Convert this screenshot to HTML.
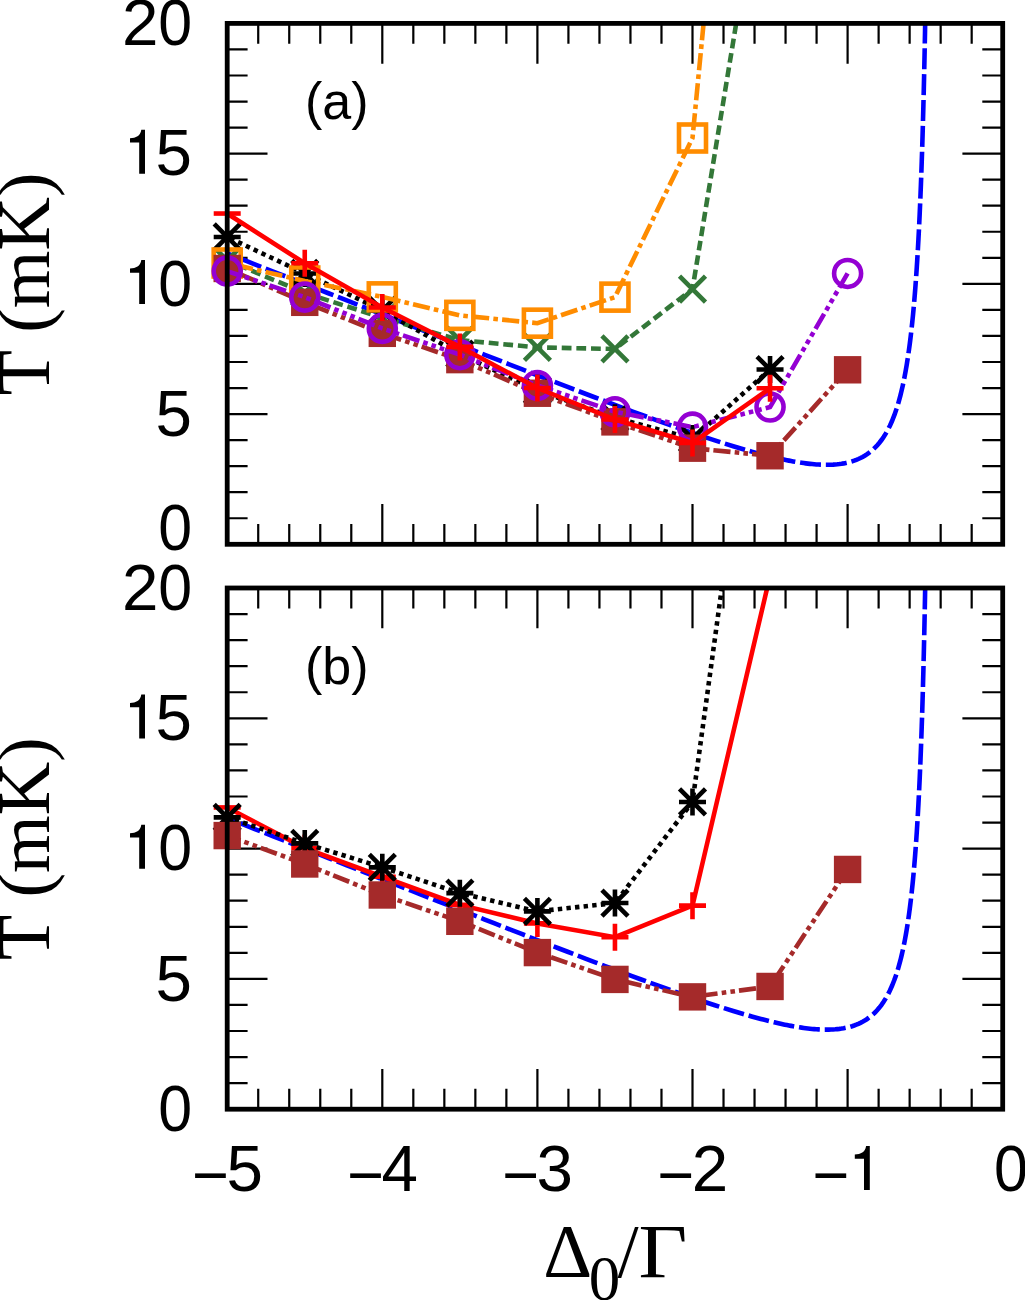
<!DOCTYPE html>
<html><head><meta charset="utf-8"><style>
html,body{margin:0;padding:0;background:#fff;}
svg{display:block;}
.tk{font-family:"Liberation Sans",sans-serif;font-size:65.5px;fill:#000;}
.lb{font-family:"Liberation Serif",serif;fill:#000;}
.pl{font-family:"Liberation Sans",sans-serif;font-size:52px;fill:#000;}
</style></head><body>
<svg width="1025" height="1300" viewBox="0 0 1025 1300">
<defs>
<clipPath id="ca"><rect x="227.2" y="23.4" width="775.5" height="520.9"/></clipPath>
<clipPath id="cb"><rect x="227.2" y="588" width="775.5" height="521.2"/></clipPath>
</defs>
<rect width="1025" height="1300" fill="#fff"/>
<path d="M258.22 544.3v-20.4M258.22 23.4v20.4M289.24 544.3v-20.4M289.24 23.4v20.4M320.26 544.3v-20.4M320.26 23.4v20.4M351.28 544.3v-20.4M351.28 23.4v20.4M382.3 544.3v-40.3M382.3 23.4v40.3M413.32 544.3v-20.4M413.32 23.4v20.4M444.34 544.3v-20.4M444.34 23.4v20.4M475.36 544.3v-20.4M475.36 23.4v20.4M506.38 544.3v-20.4M506.38 23.4v20.4M537.4 544.3v-40.3M537.4 23.4v40.3M568.42 544.3v-20.4M568.42 23.4v20.4M599.44 544.3v-20.4M599.44 23.4v20.4M630.46 544.3v-20.4M630.46 23.4v20.4M661.48 544.3v-20.4M661.48 23.4v20.4M692.5 544.3v-40.3M692.5 23.4v40.3M723.52 544.3v-20.4M723.52 23.4v20.4M754.54 544.3v-20.4M754.54 23.4v20.4M785.56 544.3v-20.4M785.56 23.4v20.4M816.58 544.3v-20.4M816.58 23.4v20.4M847.6 544.3v-40.3M847.6 23.4v40.3M878.62 544.3v-20.4M878.62 23.4v20.4M909.64 544.3v-20.4M909.64 23.4v20.4M940.66 544.3v-20.4M940.66 23.4v20.4M971.68 544.3v-20.4M971.68 23.4v20.4M227.2 518.25h20.4M1002.7 518.25h-20.4M227.2 492.21h20.4M1002.7 492.21h-20.4M227.2 466.16h20.4M1002.7 466.16h-20.4M227.2 440.12h20.4M1002.7 440.12h-20.4M227.2 414.07h40.3M1002.7 414.07h-40.3M227.2 388.03h20.4M1002.7 388.03h-20.4M227.2 361.98h20.4M1002.7 361.98h-20.4M227.2 335.94h20.4M1002.7 335.94h-20.4M227.2 309.89h20.4M1002.7 309.89h-20.4M227.2 283.85h40.3M1002.7 283.85h-40.3M227.2 257.8h20.4M1002.7 257.8h-20.4M227.2 231.76h20.4M1002.7 231.76h-20.4M227.2 205.71h20.4M1002.7 205.71h-20.4M227.2 179.67h20.4M1002.7 179.67h-20.4M227.2 153.62h40.3M1002.7 153.62h-40.3M227.2 127.58h20.4M1002.7 127.58h-20.4M227.2 101.53h20.4M1002.7 101.53h-20.4M227.2 75.49h20.4M1002.7 75.49h-20.4M227.2 49.44h20.4M1002.7 49.44h-20.4" stroke="#000" stroke-width="2.2" fill="none"/>
<polyline points="227.2,253.5 236.4,257.1 245.6,260.71 254.8,264.31 264,267.92 273.2,271.53 282.41,275.15 291.61,278.76 300.81,282.38 310.01,286 319.21,289.62 328.41,293.24 337.61,296.86 346.81,300.48 356.01,304.11 365.21,307.73 374.41,311.36 383.61,314.98 392.82,318.61 402.02,322.23 411.22,325.86 420.42,329.48 429.62,333.1 438.82,336.73 448.02,340.34 457.22,343.96 466.42,347.57 475.62,351.18 484.82,354.79 494.02,358.39 503.23,361.99 512.43,365.58 521.63,369.16 530.83,372.74 540.03,376.31 549.23,379.87 558.43,383.42 567.63,386.96 576.83,390.49 586.03,394 595.23,397.5 604.43,400.98 613.64,404.44 622.84,407.88 632.04,411.29 641.24,414.68 650.44,418.04 659.64,421.37 668.84,424.66 678.04,427.91 687.24,431.12 696.44,434.27 705.64,437.36 714.84,440.38 724.05,443.33 733.25,446.19 742.45,448.95 751.65,451.59 760.85,454.1 770.05,456.44 770.05,456.44 772.15,456.95 774.26,457.45 776.36,457.94 778.46,458.42 780.57,458.88 782.67,459.34 784.77,459.78 786.87,460.21 788.98,460.62 791.08,461.02 793.18,461.41 795.29,461.78 797.39,462.13 799.49,462.47 801.6,462.79 803.7,463.08 805.8,463.36 807.9,463.62 810.01,463.86 812.11,464.07 814.21,464.26 816.32,464.42 818.42,464.56 820.52,464.66 822.63,464.74 824.73,464.79 826.83,464.8 828.94,464.77 831.04,464.71 833.14,464.61 835.24,464.46 837.35,464.27 839.45,464.03 841.55,463.74 843.66,463.39 845.76,462.98 847.86,462.51 849.97,461.97 852.07,461.35 854.17,460.66 856.28,459.87 858.38,459 860.48,458.02 862.58,456.93 864.69,455.73 866.79,454.39 868.89,452.9 871,451.26 873.1,449.44 875.2,447.43 877.31,445.21 879.41,442.75 881.51,440.02 883.61,436.99 885.72,433.62 887.82,429.86 889.92,425.67 892.03,420.98 894.13,415.7 894.13,415.7 894.54,414.59 894.95,413.45 895.37,412.29 895.78,411.1 896.19,409.87 896.6,408.62 897.02,407.34 897.43,406.02 897.84,404.67 898.25,403.29 898.67,401.87 899.08,400.41 899.49,398.92 899.9,397.38 900.31,395.81 900.73,394.19 901.14,392.53 901.55,390.82 901.96,389.07 902.38,387.26 902.79,385.41 903.2,383.5 903.61,381.54 904.02,379.52 904.44,377.43 904.85,375.29 905.26,373.08 905.67,370.81 906.09,368.46 906.5,366.04 906.91,363.55 907.32,360.97 907.74,358.31 908.15,355.56 908.56,352.72 908.97,349.79 909.38,346.75 909.8,343.61 910.21,340.35 910.62,336.98 911.03,333.48 911.45,329.86 911.86,326.1 912.27,322.19 912.68,318.13 913.1,313.92 913.51,309.53 913.92,304.96 914.33,300.2 914.74,295.24 915.16,290.06 915.57,284.65 915.98,279 916.39,273.09 916.81,266.89 917.22,260.4 917.63,253.59 918.04,246.44 918.46,238.92 918.87,231 919.28,222.65 919.69,213.83 920.1,204.51 920.52,194.65 920.93,184.19 921.34,173.08 921.75,161.25 922.17,148.65 922.58,135.18 922.99,120.77 923.4,105.3 923.81,88.66 924.23,70.72 924.64,51.3 925.05,30.24 925.46,7.31 925.88,-17.75 926.29,-45.25 926.7,-75.55" fill="none" stroke="#0000ff" stroke-width="4.6" stroke-dasharray="21 4.87" stroke-dashoffset="10.43" clip-path="url(#ca)"/>
<polyline points="227.2,260.41 304.75,292.97 382.3,317.71 459.85,340.11 537.4,347.4 614.95,348.96 692.5,289.06 770.05,-182.36" fill="none" stroke="#337738" stroke-width="4.6" stroke-dasharray="9.8 4.84" stroke-dashoffset="2.92" clip-path="url(#ca)"/>
<path d="M214.2 247.41L240.2 273.41M214.2 273.41L240.2 247.41" stroke="#337738" stroke-width="4.6" fill="none"/>
<path d="M291.75 279.97L317.75 305.97M291.75 305.97L317.75 279.97" stroke="#337738" stroke-width="4.6" fill="none"/>
<path d="M369.3 304.71L395.3 330.71M369.3 330.71L395.3 304.71" stroke="#337738" stroke-width="4.6" fill="none"/>
<path d="M446.85 327.11L472.85 353.11M446.85 353.11L472.85 327.11" stroke="#337738" stroke-width="4.6" fill="none"/>
<path d="M524.4 334.4L550.4 360.4M524.4 360.4L550.4 334.4" stroke="#337738" stroke-width="4.6" fill="none"/>
<path d="M601.95 335.96L627.95 361.96M601.95 361.96L627.95 335.96" stroke="#337738" stroke-width="4.6" fill="none"/>
<path d="M679.5 276.06L705.5 302.06M679.5 302.06L705.5 276.06" stroke="#337738" stroke-width="4.6" fill="none"/>
<polyline points="227.2,236.97 304.75,273.43 382.3,310.42 459.85,354.17 537.4,390.37 614.95,417.72 692.5,438.56 770.05,369.54" fill="none" stroke="#000000" stroke-width="4.6" stroke-dasharray="4.4 4.24" stroke-dashoffset="5.29" clip-path="url(#ca)"/>
<path d="M213.7 236.97H240.7M214.2 223.97L240.2 249.97M214.2 249.97L240.2 223.97" stroke="#000000" stroke-width="4.6" fill="none"/>
<path d="M291.25 273.43H318.25M304.75 259.93V286.93M291.75 260.43L317.75 286.43M291.75 286.43L317.75 260.43" stroke="#000000" stroke-width="4.6" fill="none"/>
<path d="M368.8 310.42H395.8M382.3 296.92V323.92M369.3 297.42L395.3 323.42M369.3 323.42L395.3 297.42" stroke="#000000" stroke-width="4.6" fill="none"/>
<path d="M446.35 354.17H473.35M459.85 340.67V367.67M446.85 341.17L472.85 367.17M446.85 367.17L472.85 341.17" stroke="#000000" stroke-width="4.6" fill="none"/>
<path d="M523.9 390.37H550.9M537.4 376.87V403.87M524.4 377.37L550.4 403.37M524.4 403.37L550.4 377.37" stroke="#000000" stroke-width="4.6" fill="none"/>
<path d="M601.45 417.72H628.45M614.95 404.22V431.22M601.95 404.72L627.95 430.72M601.95 430.72L627.95 404.72" stroke="#000000" stroke-width="4.6" fill="none"/>
<path d="M679 438.56H706M692.5 425.06V452.06M679.5 425.56L705.5 451.56M679.5 451.56L705.5 425.56" stroke="#000000" stroke-width="4.6" fill="none"/>
<path d="M756.55 369.54H783.55M770.05 356.04V383.04M757.05 356.54L783.05 382.54M757.05 382.54L783.05 356.54" stroke="#000000" stroke-width="4.6" fill="none"/>
<polyline points="227.2,263.01 304.75,280.99 382.3,296.87 459.85,315.36 537.4,323.18 614.95,297.13 692.5,138 770.05,-664.19" fill="none" stroke="#ff8c00" stroke-width="4.6" stroke-dasharray="17.2 4.2 4.6 4.2" stroke-dashoffset="21.04" clip-path="url(#ca)"/>
<rect x="213.7" y="249.51" width="27" height="27" stroke="#ff8c00" stroke-width="4.6" fill="none"/>
<rect x="291.25" y="267.49" width="27" height="27" stroke="#ff8c00" stroke-width="4.6" fill="none"/>
<rect x="368.8" y="283.37" width="27" height="27" stroke="#ff8c00" stroke-width="4.6" fill="none"/>
<rect x="446.35" y="301.86" width="27" height="27" stroke="#ff8c00" stroke-width="4.6" fill="none"/>
<rect x="523.9" y="309.68" width="27" height="27" stroke="#ff8c00" stroke-width="4.6" fill="none"/>
<rect x="601.45" y="283.63" width="27" height="27" stroke="#ff8c00" stroke-width="4.6" fill="none"/>
<rect x="679" y="124.5" width="27" height="27" stroke="#ff8c00" stroke-width="4.6" fill="none"/>
<polyline points="227.2,268.48 304.75,302.34 382.3,333.34 459.85,359.64 537.4,393.24 614.95,421.89 692.5,448.19 770.05,455.75 847.6,369.8" fill="none" stroke="#a52a2a" stroke-width="4.6" stroke-dasharray="17.2 4.2 4.6 4.2 4.6 4" stroke-dashoffset="23.12" clip-path="url(#ca)"/>
<rect x="213.5" y="254.78" width="27.4" height="27.4" fill="#a52a2a"/>
<rect x="291.05" y="288.64" width="27.4" height="27.4" fill="#a52a2a"/>
<rect x="368.6" y="319.64" width="27.4" height="27.4" fill="#a52a2a"/>
<rect x="446.15" y="345.94" width="27.4" height="27.4" fill="#a52a2a"/>
<rect x="523.7" y="379.54" width="27.4" height="27.4" fill="#a52a2a"/>
<rect x="601.25" y="408.19" width="27.4" height="27.4" fill="#a52a2a"/>
<rect x="678.8" y="434.49" width="27.4" height="27.4" fill="#a52a2a"/>
<rect x="756.35" y="442.05" width="27.4" height="27.4" fill="#a52a2a"/>
<rect x="833.9" y="356.1" width="27.4" height="27.4" fill="#a52a2a"/>
<polyline points="227.2,271.09 304.75,297.13 382.3,328.39 459.85,354.69 537.4,385.43 614.95,411.73 692.5,427.1 770.05,407.04 847.6,273.43" fill="none" stroke="#9400d3" stroke-width="4.6" stroke-dasharray="17.3 4.1 4.6 4.1 4.6 4.1 4.6 4.1" stroke-dashoffset="2.76" clip-path="url(#ca)"/>
<circle cx="227.2" cy="271.09" r="13.5" stroke="#9400d3" stroke-width="4.6" fill="none"/>
<circle cx="304.75" cy="297.13" r="13.5" stroke="#9400d3" stroke-width="4.6" fill="none"/>
<circle cx="382.3" cy="328.39" r="13.5" stroke="#9400d3" stroke-width="4.6" fill="none"/>
<circle cx="459.85" cy="354.69" r="13.5" stroke="#9400d3" stroke-width="4.6" fill="none"/>
<circle cx="537.4" cy="385.43" r="13.5" stroke="#9400d3" stroke-width="4.6" fill="none"/>
<circle cx="614.95" cy="411.73" r="13.5" stroke="#9400d3" stroke-width="4.6" fill="none"/>
<circle cx="692.5" cy="427.1" r="13.5" stroke="#9400d3" stroke-width="4.6" fill="none"/>
<circle cx="770.05" cy="407.04" r="13.5" stroke="#9400d3" stroke-width="4.6" fill="none"/>
<circle cx="847.6" cy="273.43" r="13.5" stroke="#9400d3" stroke-width="4.6" fill="none"/>
<polyline points="227.2,213.53 304.75,263.27 382.3,307.55 459.85,346.88 537.4,388.03 614.95,419.54 692.5,442.98 770.05,388.29" fill="none" stroke="#ff0000" stroke-width="4.6" clip-path="url(#ca)"/>
<path d="M213.7 213.53H240.7" stroke="#ff0000" stroke-width="4.6" fill="none"/>
<path d="M291.25 263.27H318.25M304.75 249.77V276.77" stroke="#ff0000" stroke-width="4.6" fill="none"/>
<path d="M368.8 307.55H395.8M382.3 294.05V321.05" stroke="#ff0000" stroke-width="4.6" fill="none"/>
<path d="M446.35 346.88H473.35M459.85 333.38V360.38" stroke="#ff0000" stroke-width="4.6" fill="none"/>
<path d="M523.9 388.03H550.9M537.4 374.53V401.53" stroke="#ff0000" stroke-width="4.6" fill="none"/>
<path d="M601.45 419.54H628.45M614.95 406.04V433.04" stroke="#ff0000" stroke-width="4.6" fill="none"/>
<path d="M679 442.98H706M692.5 429.48V456.48" stroke="#ff0000" stroke-width="4.6" fill="none"/>
<path d="M756.55 388.29H783.55M770.05 374.79V401.79" stroke="#ff0000" stroke-width="4.6" fill="none"/>
<rect x="227.2" y="23.4" width="775.5" height="520.9" fill="none" stroke="#000" stroke-width="4.8"/>
<path d="M258.22 1109.2v-20.4M258.22 588v20.4M289.24 1109.2v-20.4M289.24 588v20.4M320.26 1109.2v-20.4M320.26 588v20.4M351.28 1109.2v-20.4M351.28 588v20.4M382.3 1109.2v-40.3M382.3 588v40.3M413.32 1109.2v-20.4M413.32 588v20.4M444.34 1109.2v-20.4M444.34 588v20.4M475.36 1109.2v-20.4M475.36 588v20.4M506.38 1109.2v-20.4M506.38 588v20.4M537.4 1109.2v-40.3M537.4 588v40.3M568.42 1109.2v-20.4M568.42 588v20.4M599.44 1109.2v-20.4M599.44 588v20.4M630.46 1109.2v-20.4M630.46 588v20.4M661.48 1109.2v-20.4M661.48 588v20.4M692.5 1109.2v-40.3M692.5 588v40.3M723.52 1109.2v-20.4M723.52 588v20.4M754.54 1109.2v-20.4M754.54 588v20.4M785.56 1109.2v-20.4M785.56 588v20.4M816.58 1109.2v-20.4M816.58 588v20.4M847.6 1109.2v-40.3M847.6 588v40.3M878.62 1109.2v-20.4M878.62 588v20.4M909.64 1109.2v-20.4M909.64 588v20.4M940.66 1109.2v-20.4M940.66 588v20.4M971.68 1109.2v-20.4M971.68 588v20.4M227.2 1083.14h20.4M1002.7 1083.14h-20.4M227.2 1057.08h20.4M1002.7 1057.08h-20.4M227.2 1031.02h20.4M1002.7 1031.02h-20.4M227.2 1004.96h20.4M1002.7 1004.96h-20.4M227.2 978.9h40.3M1002.7 978.9h-40.3M227.2 952.84h20.4M1002.7 952.84h-20.4M227.2 926.78h20.4M1002.7 926.78h-20.4M227.2 900.72h20.4M1002.7 900.72h-20.4M227.2 874.66h20.4M1002.7 874.66h-20.4M227.2 848.6h40.3M1002.7 848.6h-40.3M227.2 822.54h20.4M1002.7 822.54h-20.4M227.2 796.48h20.4M1002.7 796.48h-20.4M227.2 770.42h20.4M1002.7 770.42h-20.4M227.2 744.36h20.4M1002.7 744.36h-20.4M227.2 718.3h40.3M1002.7 718.3h-40.3M227.2 692.24h20.4M1002.7 692.24h-20.4M227.2 666.18h20.4M1002.7 666.18h-20.4M227.2 640.12h20.4M1002.7 640.12h-20.4M227.2 614.06h20.4M1002.7 614.06h-20.4" stroke="#000" stroke-width="2.2" fill="none"/>
<polyline points="227.2,818.24 236.4,821.84 245.6,825.44 254.8,829.05 264,832.66 273.2,836.28 282.41,839.89 291.61,843.51 300.81,847.13 310.01,850.75 319.21,854.37 328.41,857.99 337.61,861.62 346.81,865.24 356.01,868.87 365.21,872.5 374.41,876.12 383.61,879.75 392.82,883.38 402.02,887.01 411.22,890.63 420.42,894.26 429.62,897.88 438.82,901.51 448.02,905.13 457.22,908.75 466.42,912.36 475.62,915.97 484.82,919.58 494.02,923.18 503.23,926.78 512.43,930.38 521.63,933.96 530.83,937.54 540.03,941.11 549.23,944.68 558.43,948.23 567.63,951.77 576.83,955.3 586.03,958.81 595.23,962.31 604.43,965.79 613.64,969.26 622.84,972.7 632.04,976.12 641.24,979.51 650.44,982.87 659.64,986.2 668.84,989.49 678.04,992.75 687.24,995.95 696.44,999.1 705.64,1002.2 714.84,1005.22 724.05,1008.17 733.25,1011.04 742.45,1013.8 751.65,1016.44 760.85,1018.94 770.05,1021.29 770.05,1021.29 772.15,1021.8 774.26,1022.3 776.36,1022.79 778.46,1023.27 780.57,1023.74 782.67,1024.19 784.77,1024.63 786.87,1025.06 788.98,1025.48 791.08,1025.88 793.18,1026.26 795.29,1026.63 797.39,1026.98 799.49,1027.32 801.6,1027.64 803.7,1027.94 805.8,1028.22 807.9,1028.47 810.01,1028.71 812.11,1028.92 814.21,1029.11 816.32,1029.28 818.42,1029.41 820.52,1029.52 822.63,1029.6 824.73,1029.64 826.83,1029.65 828.94,1029.63 831.04,1029.57 833.14,1029.46 835.24,1029.32 837.35,1029.12 839.45,1028.88 841.55,1028.59 843.66,1028.24 845.76,1027.83 847.86,1027.36 849.97,1026.82 852.07,1026.2 854.17,1025.51 856.28,1024.73 858.38,1023.85 860.48,1022.87 862.58,1021.78 864.69,1020.58 866.79,1019.24 868.89,1017.75 871,1016.11 873.1,1014.29 875.2,1012.28 877.31,1010.05 879.41,1007.59 881.51,1004.86 883.61,1001.82 885.72,998.45 887.82,994.7 889.92,990.5 892.03,985.81 894.13,980.53 894.13,980.53 894.54,979.42 894.95,978.28 895.37,977.11 895.78,975.92 896.19,974.7 896.6,973.44 897.02,972.16 897.43,970.84 897.84,969.49 898.25,968.11 898.67,966.69 899.08,965.23 899.49,963.73 899.9,962.2 900.31,960.62 900.73,959 901.14,957.34 901.55,955.63 901.96,953.88 902.38,952.07 902.79,950.22 903.2,948.31 903.61,946.34 904.02,944.32 904.44,942.24 904.85,940.09 905.26,937.89 905.67,935.61 906.09,933.26 906.5,930.84 906.91,928.34 907.32,925.77 907.74,923.1 908.15,920.35 908.56,917.51 908.97,914.57 909.38,911.54 909.8,908.39 910.21,905.13 910.62,901.76 911.03,898.26 911.45,894.64 911.86,890.87 912.27,886.96 912.68,882.9 913.1,878.68 913.51,874.29 913.92,869.72 914.33,864.96 914.74,859.99 915.16,854.81 915.57,849.4 915.98,843.75 916.39,837.83 916.81,831.63 917.22,825.14 917.63,818.33 918.04,811.17 918.46,803.64 918.87,795.72 919.28,787.36 919.69,778.54 920.1,769.22 920.52,759.35 920.93,748.88 921.34,737.76 921.75,725.93 922.17,713.32 922.58,699.85 922.99,685.43 923.4,669.95 923.81,653.3 924.23,635.34 924.64,615.92 925.05,594.84 925.46,571.9 925.88,546.82 926.29,519.31 926.7,488.99" fill="none" stroke="#0000ff" stroke-width="4.6" stroke-dasharray="21 4.87" stroke-dashoffset="11.5" clip-path="url(#cb)"/>
<polyline points="227.2,807.43 304.75,848.08 382.3,876.74 459.85,904.89 537.4,923.39 614.95,937.2 692.5,905.67 770.05,575.75" fill="none" stroke="#ff0000" stroke-width="4.6" clip-path="url(#cb)"/>
<path d="M213.7 807.43H240.7" stroke="#ff0000" stroke-width="4.6" fill="none"/>
<path d="M291.25 848.08H318.25M304.75 834.58V861.58" stroke="#ff0000" stroke-width="4.6" fill="none"/>
<path d="M368.8 876.74H395.8M382.3 863.24V890.24" stroke="#ff0000" stroke-width="4.6" fill="none"/>
<path d="M446.35 904.89H473.35M459.85 891.39V918.39" stroke="#ff0000" stroke-width="4.6" fill="none"/>
<path d="M523.9 923.39H550.9M537.4 909.89V936.89" stroke="#ff0000" stroke-width="4.6" fill="none"/>
<path d="M601.45 937.2H628.45M614.95 923.7V950.7" stroke="#ff0000" stroke-width="4.6" fill="none"/>
<path d="M679 905.67H706M692.5 892.17V919.17" stroke="#ff0000" stroke-width="4.6" fill="none"/>
<polyline points="227.2,817.33 304.75,843.39 382.3,867.36 459.85,893.16 537.4,911.4 614.95,903.07 692.5,801.95 770.05,236.19" fill="none" stroke="#000000" stroke-width="4.6" stroke-dasharray="4.4 4.24" stroke-dashoffset="0.67" clip-path="url(#cb)"/>
<path d="M213.7 817.33H240.7M214.2 804.33L240.2 830.33M214.2 830.33L240.2 804.33" stroke="#000000" stroke-width="4.6" fill="none"/>
<path d="M291.25 843.39H318.25M304.75 829.89V856.89M291.75 830.39L317.75 856.39M291.75 856.39L317.75 830.39" stroke="#000000" stroke-width="4.6" fill="none"/>
<path d="M368.8 867.36H395.8M382.3 853.86V880.86M369.3 854.36L395.3 880.36M369.3 880.36L395.3 854.36" stroke="#000000" stroke-width="4.6" fill="none"/>
<path d="M446.35 893.16H473.35M459.85 879.66V906.66M446.85 880.16L472.85 906.16M446.85 906.16L472.85 880.16" stroke="#000000" stroke-width="4.6" fill="none"/>
<path d="M523.9 911.4H550.9M537.4 897.9V924.9M524.4 898.4L550.4 924.4M524.4 924.4L550.4 898.4" stroke="#000000" stroke-width="4.6" fill="none"/>
<path d="M601.45 903.07H628.45M614.95 889.57V916.57M601.95 890.07L627.95 916.07M601.95 916.07L627.95 890.07" stroke="#000000" stroke-width="4.6" fill="none"/>
<path d="M679 801.95H706M692.5 788.45V815.45M679.5 788.95L705.5 814.95M679.5 814.95L705.5 788.95" stroke="#000000" stroke-width="4.6" fill="none"/>
<polyline points="227.2,835.57 304.75,863.98 382.3,894.99 459.85,921.31 537.4,952.58 614.95,979.42 692.5,996.88 770.05,986.46 847.6,869.45" fill="none" stroke="#a52a2a" stroke-width="4.6" stroke-dasharray="17.2 4.2 4.6 4.2 4.6 4" stroke-dashoffset="3.16" clip-path="url(#cb)"/>
<rect x="213.5" y="821.87" width="27.4" height="27.4" fill="#a52a2a"/>
<rect x="291.05" y="850.28" width="27.4" height="27.4" fill="#a52a2a"/>
<rect x="368.6" y="881.29" width="27.4" height="27.4" fill="#a52a2a"/>
<rect x="446.15" y="907.61" width="27.4" height="27.4" fill="#a52a2a"/>
<rect x="523.7" y="938.88" width="27.4" height="27.4" fill="#a52a2a"/>
<rect x="601.25" y="965.72" width="27.4" height="27.4" fill="#a52a2a"/>
<rect x="678.8" y="983.18" width="27.4" height="27.4" fill="#a52a2a"/>
<rect x="756.35" y="972.76" width="27.4" height="27.4" fill="#a52a2a"/>
<rect x="833.9" y="855.75" width="27.4" height="27.4" fill="#a52a2a"/>
<rect x="227.2" y="588" width="775.5" height="521.2" fill="none" stroke="#000" stroke-width="4.8"/>
<text transform="translate(192 549.6) scale(0.93 1)" x="0" y="0" text-anchor="end" class="tk">0</text>
<text x="192" y="435.87" text-anchor="end" class="tk">5</text>
<text transform="translate(192 305.65) scale(0.93 1)" x="0" y="0" text-anchor="end" class="tk">0</text>
<path transform="translate(145 303.95)" d="M0 0H-5.8V-31.2H-15V-35.4C-9 -35.7 -4.7 -37.6 -3.7 -43.9H0Z" fill="#000"/>
<text x="192" y="175.43" text-anchor="end" class="tk">5</text>
<path transform="translate(145 173.72)" d="M0 0H-5.8V-31.2H-15V-35.4C-9 -35.7 -4.7 -37.6 -3.7 -43.9H0Z" fill="#000"/>
<text transform="translate(192 45.2) scale(0.93 1)" x="0" y="0" text-anchor="end" class="tk">0</text>
<text x="158.4" y="45.2" text-anchor="end" class="tk">2</text>
<text transform="translate(192 1131) scale(0.93 1)" x="0" y="0" text-anchor="end" class="tk">0</text>
<text x="192" y="1000.7" text-anchor="end" class="tk">5</text>
<text transform="translate(192 870.4) scale(0.93 1)" x="0" y="0" text-anchor="end" class="tk">0</text>
<path transform="translate(145 868.7)" d="M0 0H-5.8V-31.2H-15V-35.4C-9 -35.7 -4.7 -37.6 -3.7 -43.9H0Z" fill="#000"/>
<text x="192" y="740.1" text-anchor="end" class="tk">5</text>
<path transform="translate(145 738.4)" d="M0 0H-5.8V-31.2H-15V-35.4C-9 -35.7 -4.7 -37.6 -3.7 -43.9H0Z" fill="#000"/>
<text transform="translate(192 609.8) scale(0.93 1)" x="0" y="0" text-anchor="end" class="tk">0</text>
<text x="158.4" y="609.8" text-anchor="end" class="tk">2</text>
<rect x="195.1" y="1173.4" width="30.7" height="4.6" fill="#000"/>
<text x="244.6" y="1190.5" text-anchor="middle" class="tk">5</text>
<rect x="350.2" y="1173.4" width="30.7" height="4.6" fill="#000"/>
<text x="399.7" y="1190.5" text-anchor="middle" class="tk">4</text>
<rect x="505.3" y="1173.4" width="30.7" height="4.6" fill="#000"/>
<text x="554.8" y="1190.5" text-anchor="middle" class="tk">3</text>
<rect x="660.4" y="1173.4" width="30.7" height="4.6" fill="#000"/>
<text x="709.9" y="1190.5" text-anchor="middle" class="tk">2</text>
<rect x="815.5" y="1173.4" width="30.7" height="4.6" fill="#000"/>
<path transform="translate(869.8 1189.9)" d="M0 0H-5.8V-31.2H-15V-35.4C-9 -35.7 -4.7 -37.6 -3.7 -43.9H0Z" fill="#000"/>
<text transform="translate(1011 1190.5) scale(0.93 1)" x="0" y="0" text-anchor="middle" class="tk">0</text>
<text x="305" y="119" class="pl">(a)</text>
<text x="305" y="683.5" class="pl">(b)</text>
<text transform="translate(49 283.85) rotate(-90)" x="0" y="0" text-anchor="middle" class="lb" font-size="74">T (mK)</text>
<text transform="translate(49 848.6) rotate(-90)" x="0" y="0" text-anchor="middle" class="lb" font-size="74">T (mK)</text>
<text x="543.3" y="1277.4" class="lb" font-size="76">Δ</text>
<text x="588.7" y="1299.9" class="lb" font-size="63">0</text>
<text x="617.5" y="1277.4" class="lb" font-size="76">/</text>
<text transform="translate(641 1277.4) scale(1.11 1)" x="-2.28" y="0" class="lb" font-size="76">Γ</text>
</svg>
</body></html>
